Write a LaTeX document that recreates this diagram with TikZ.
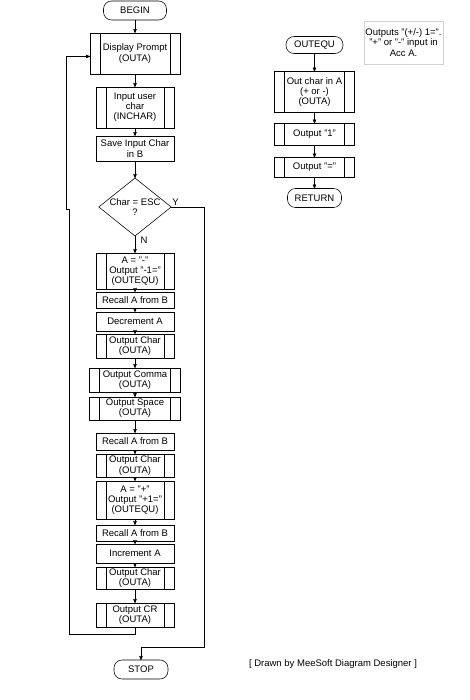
\documentclass[tikz,border=0pt]{standalone}
\usepackage{fontspec}
\setmainfont{Liberation Sans}
\usepackage{tikz}
\usepackage{xcolor}
\usetikzlibrary{arrows}
\usetikzlibrary{positioning,shapes.geometric}

\begin{document}
\begin{tikzpicture}[->, >=stealth', x=1pt, y=1pt, line width=0.55pt,
                font=\fontsize{9.5}{10.2}\selectfont,
                term/.style={draw, rectangle, rounded corners=8pt, minimum height=19pt, inner sep=1pt, outer sep=0pt},
                proc/.style={draw, rectangle, align=center, minimum width=78pt, inner sep=1pt, outer sep=0pt},
                sub/.style={proc, path picture={
                  \draw[-] ([xshift=10pt]path picture bounding box.north west) -- ([xshift=10pt]path picture bounding box.south west)
                           ([xshift=-10pt]path picture bounding box.north east) -- ([xshift=-10pt]path picture bounding box.south east);}},
                test/.style={draw, diamond, aspect=1.25, align=center, inner sep=0pt, outer sep=0pt, minimum width=72pt, minimum height=58pt}]

  \useasboundingbox (0,0) rectangle (470,700);

  % main routine
  \node[term, minimum width=63pt] (begin) at (135,689.5) {BEGIN};
  \node[sub, minimum width=90pt, minimum height=41pt, below=13pt of begin] (disp) {Display Prompt\\(OUTA)};
  \node[sub, minimum height=41pt, below=13pt of disp] (inp) {Input user\\char\\(INCHAR)};
  \node[proc, minimum height=25pt, below=8pt of inp] (save) {Save Input Char\\in B};
  \node[test, below=17pt of save] (esc) {Char = ESC\\?};
  \node[sub, minimum height=36pt, below=17pt of esc] (aminus) {A = "-"\\Output "-1="\\(OUTEQU)};
  \node[proc, minimum height=16pt, below=3pt of aminus] (rcl1) {Recall A from B};
  \node[proc, minimum height=19pt, below=4pt of rcl1] (decr) {Decrement A};
  \node[sub, minimum height=24pt, below=3pt of decr] (och1) {Output Char\\(OUTA)};
  \node[sub, minimum width=91pt, minimum height=24pt, below=10pt of och1] (ocom) {Output Comma\\(OUTA)};
  \node[sub, minimum width=91pt, minimum height=23pt, below=5pt of ocom] (ospc) {Output Space\\(OUTA)};
  \node[proc, minimum height=17pt, below=13pt of ospc] (rcl2) {Recall A from B};
  \node[sub, minimum height=23pt, below=4pt of rcl2] (och2) {Output Char\\(OUTA)};
  \node[sub, minimum height=38pt, below=4pt of och2] (aplus) {A = "+"\\Output "+1="\\(OUTEQU)};
  \node[proc, minimum height=16pt, below=6pt of aplus] (rcl3) {Recall A from B};
  \node[proc, minimum height=19pt, below=3pt of rcl3] (incr) {Increment A};
  \node[sub, minimum height=22pt, below=4pt of incr] (och3) {Output Char\\(OUTA)};
  \node[sub, minimum height=24pt, below=14pt of och3] (ocr) {Output CR\\(OUTA)};
  \node[term, minimum width=54pt, below=33pt of ocr, xshift=6pt] (stop) {STOP};

  % OUTEQU subroutine
  \node[term, minimum width=57pt, minimum height=17pt] (outequ) at (314.5,655) {OUTEQU};
  \node[sub, minimum width=80pt, minimum height=41pt, below=18pt of outequ] (ocha) {Out char in A\\(+ or -)\\(OUTA)};
  \node[sub, minimum width=80pt, minimum height=22pt, below=11pt of ocha] (oone) {Output "1"};
  \node[sub, minimum width=80pt, minimum height=20pt, below=12pt of oone] (oeq) {Output "="};
  \node[term, minimum width=54pt, below=11pt of oeq] (ret) {RETURN};

  \node[draw=gray!35, align=center, minimum width=79pt, minimum height=43pt, inner sep=1pt] (note) at (403.5,657.5)
    {Outputs "(+/-) 1=".\\"+" or "-" input in\\Acc A.};
  \node (credit) at (333,36) {[ Drawn by MeeSoft Diagram Designer ]};

  \coordinate (jog) at (69,491);
  \coordinate (yside) at (204,53);

  \path
    (begin) edge (disp)
    (disp) edge (inp)
    (inp) edge (save)
    (save) edge (esc)
    (esc) edge node[right, pos=0.25, xshift=2pt] {N} (aminus)
    (aminus) edge (rcl1)
    (rcl1) edge (decr)
    (decr) edge (och1)
    (och1) edge (ocom)
    (ocom) edge (ospc)
    (ospc) edge (rcl2)
    (rcl2) edge (och2)
    (och2) edge (aplus)
    (aplus) edge (rcl3)
    (rcl3) edge (incr)
    (incr) edge (och3)
    (och3) edge (ocr)
    (outequ) edge (ocha)
    (ocha) edge (oone)
    (oone) edge (oeq)
    (oeq) edge (ret);

  % loop back and exit
  \draw (ocr.south) -- ++(0,-7) -| (jog) -- ++(-3,0) |- ([yshift=-3pt]disp.west);
  \draw (esc.east) node[above right, inner sep=1pt] {Y} -| (yside) -| (stop.north);
\end{tikzpicture}
\end{document}
